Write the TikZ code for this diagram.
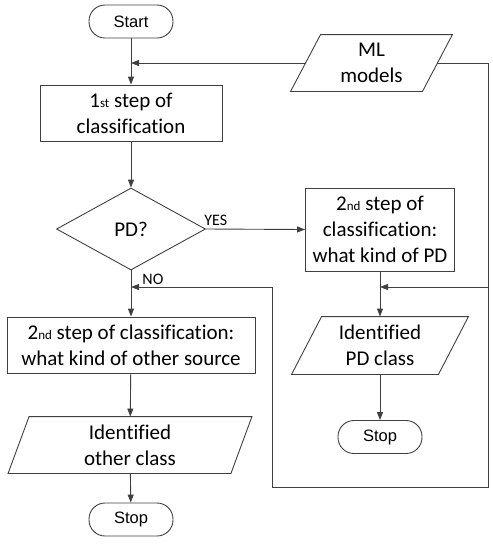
\documentclass[tikz,border=0pt]{standalone}
\usepackage{fontspec}
\setmainfont[Ligatures=NoCommon]{Carlito}
\newfontfamily\arialfont{Liberation Sans}
\usetikzlibrary{shapes.geometric,arrows.meta,calc}
\definecolor{ln}{HTML}{404040}
\tikzset{
  base/.style={draw=ln, line width=0.9pt, inner sep=0pt, align=center, font=\fontsize{21}{26}\selectfont, text=black},
  term/.style={base, rounded corners=16pt, minimum width=84pt, minimum height=33pt, font=\arialfont\fontsize{16.5}{20}\selectfont},
  proc/.style={base, rectangle},
  dec/.style={base, diamond, minimum width=149pt, minimum height=82pt, aspect=1.817},
  io/.style={base, draw=none, rectangle},
  conn/.style={draw=ln, line width=0.9pt, -{Triangle[length=8pt,width=6pt]}},
  wire/.style={draw=ln, line width=0.9pt},
  lab/.style={font=\fontsize{16}{18}\selectfont, inner sep=0pt}
}
\newcommand{\sml}[1]{{\fontsize{13}{13}\selectfont #1}}
\newcommand{\para}[2]{\draw[wire] ([xshift=-#2]#1.south west) -- ([xshift=#2]#1.north west) -- ([xshift=#2]#1.north east) -- ([xshift=-#2]#1.south east) -- cycle;}
\begin{document}
\begin{tikzpicture}[x=1pt,y=-1pt]
\useasboundingbox (0,0) rectangle (493,550);
\node[term] (start) at (131,21.5) {Start};
\node[proc, minimum width=182pt, minimum height=56pt] (b1) at (131,113) {1\sml{st} step of\\classification};
\node[io, minimum width=131pt, minimum height=56pt] (ml) at (371.5,63) {ML\\models};
\para{ml}{15pt}
\node[dec] (dia) at (131,229) {PD?};
\node[proc, minimum width=149pt, minimum height=83pt] (b2) at (380,229.5) {2\sml{nd} step of\\classification:\\what kind of PD};
\node[io, minimum width=146pt, minimum height=57pt] (pd) at (380,345.5) {Identified\\PD class};
\para{pd}{15pt}
\node[term] (stop2) at (380,437) {Stop};
\node[proc, minimum width=248pt, minimum height=56pt] (b3) at (131,345) {2\sml{nd} step of classification:\\what kind of other source};
\node[io, minimum width=222pt, minimum height=56pt] (oth) at (130,445) {Identified\\other class};
\para{oth}{10.5pt}
\node[term] (stop1) at (131,519.5) {Stop};

\coordinate (r1) at (488,63);
\coordinate (r2) at (488,487);
\coordinate (r3) at (272,487);
\coordinate (r4) at (272,287);
\coordinate (rj) at (488,287);

\draw[conn] (start) -- (b1);
\draw[conn] (ml.west) -- (ml.west -| b1.north);
\draw[wire] (ml.east) -- (r1) -- (r2) -- (r3) -- (r4);
\draw[conn] (r4) -- (r4 -| dia.south);
\draw[conn] (rj) -- (rj -| b2.south);
\draw[conn] (b1) -- (dia);
\draw[conn] (dia.east) -- node[lab, at start, anchor=south west, xshift=-2pt, yshift=3pt] {YES} (b2.west);
\draw[conn] (dia.south) -- node[lab, at start, anchor=north west, xshift=11pt, yshift=-3pt] {NO} (b3.north);
\draw[conn] (b2) -- (pd);
\draw[conn] (pd) -- (stop2);
\draw[conn] (b3) -- (oth);
\draw[conn] (oth) -- (stop1);
\end{tikzpicture}
\end{document}
